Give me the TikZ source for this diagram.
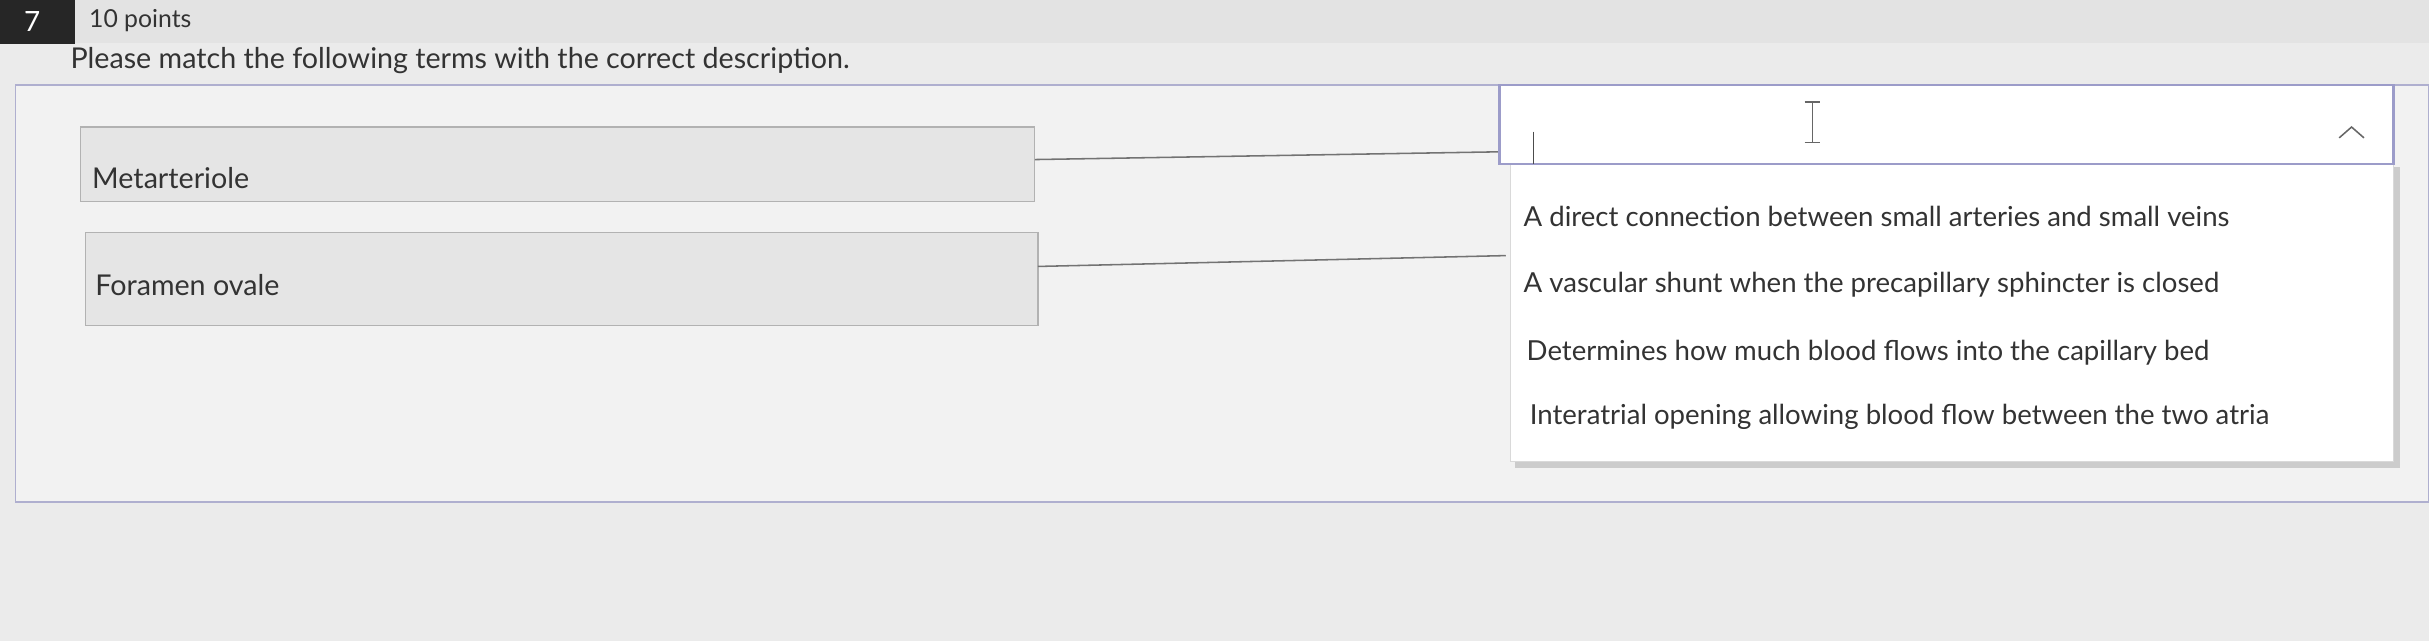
\documentclass[tikz,border=0pt]{standalone}
\usepackage{fontspec}
\setmainfont{Lato}
\begin{document}
\begin{tikzpicture}[x=1pt,y=-1pt,
  term/.style={draw=gray!60,fill=black!10,line width=0.8pt},
  item/.style={anchor=west,font=\fontsize{17.8}{20}\selectfont,text=black!80},
  lbl/.style={anchor=west,font=\fontsize{18.5}{21}\selectfont,text=black!80}]
\useasboundingbox (0,0) rectangle (1568,414);
\fill[black!8] (0,0) rectangle (1568,414);
\fill[black!11] (0,0) rectangle (1568,28);
\draw[blue!25!gray!50,line width=1.2pt,fill=black!5] (10,55) rectangle (1568,324);
\node[fill=black!85,minimum width=48pt,minimum height=28pt,anchor=north west,inner sep=0] (num) at (0,0) {};
\node[text=white,font=\fontsize{18}{20}\selectfont,anchor=west] at (12,14) {7};
\node[lbl,font=\fontsize{16}{18}\selectfont] (pts) at (54,13) {10 points};
\node[lbl] (q) at (42,39) {Please match the following terms with the correct description.};
\draw[term] (52,82) rectangle (668,130);
\node[lbl] (t1) at (56,115) {Metarteriole};
\draw[term] (55,150) rectangle (670,210);
\node[lbl] (t2) at (58,184) {Foramen ovale};
\coordinate (a1) at (668,103); \coordinate (b1) at (968,98);
\coordinate (a2) at (670,172); \coordinate (b2) at (972,165);
\draw[black!55,line width=1pt] (a1) -- (b1);
\draw[black!55,line width=1pt] (a2) -- (b2);
\fill[black!20] (978,108) rectangle (1549,302);
\draw[black!15,fill=white] (975,105) rectangle (1545,298);
\draw[blue!30!gray!60,line width=1.5pt,fill=white] (968,55) rectangle (1545,106);
\draw[black!70,line width=1pt] (990,85) -- (990,106);
\draw[black!60,line width=1pt] (1170,66) -- (1170,92) (1165,66)--(1175,66) (1165,92)--(1175,92);
\draw[black!60,line width=1pt] (1510,89) -- (1518,82) -- (1526,89);
\node[item] (o1) at (980,140) {A direct connection between small arteries and small veins};
\node[item] (o2) at (980,184) {A vascular shunt when the precapillary sphincter is closed};
\node[item] (o3) at (982,228) {Determines how much blood flows into the capillary bed};
\node[item] (o4) at (984,269) {Interatrial opening allowing blood flow between the two atria};
\end{tikzpicture}
\end{document}
